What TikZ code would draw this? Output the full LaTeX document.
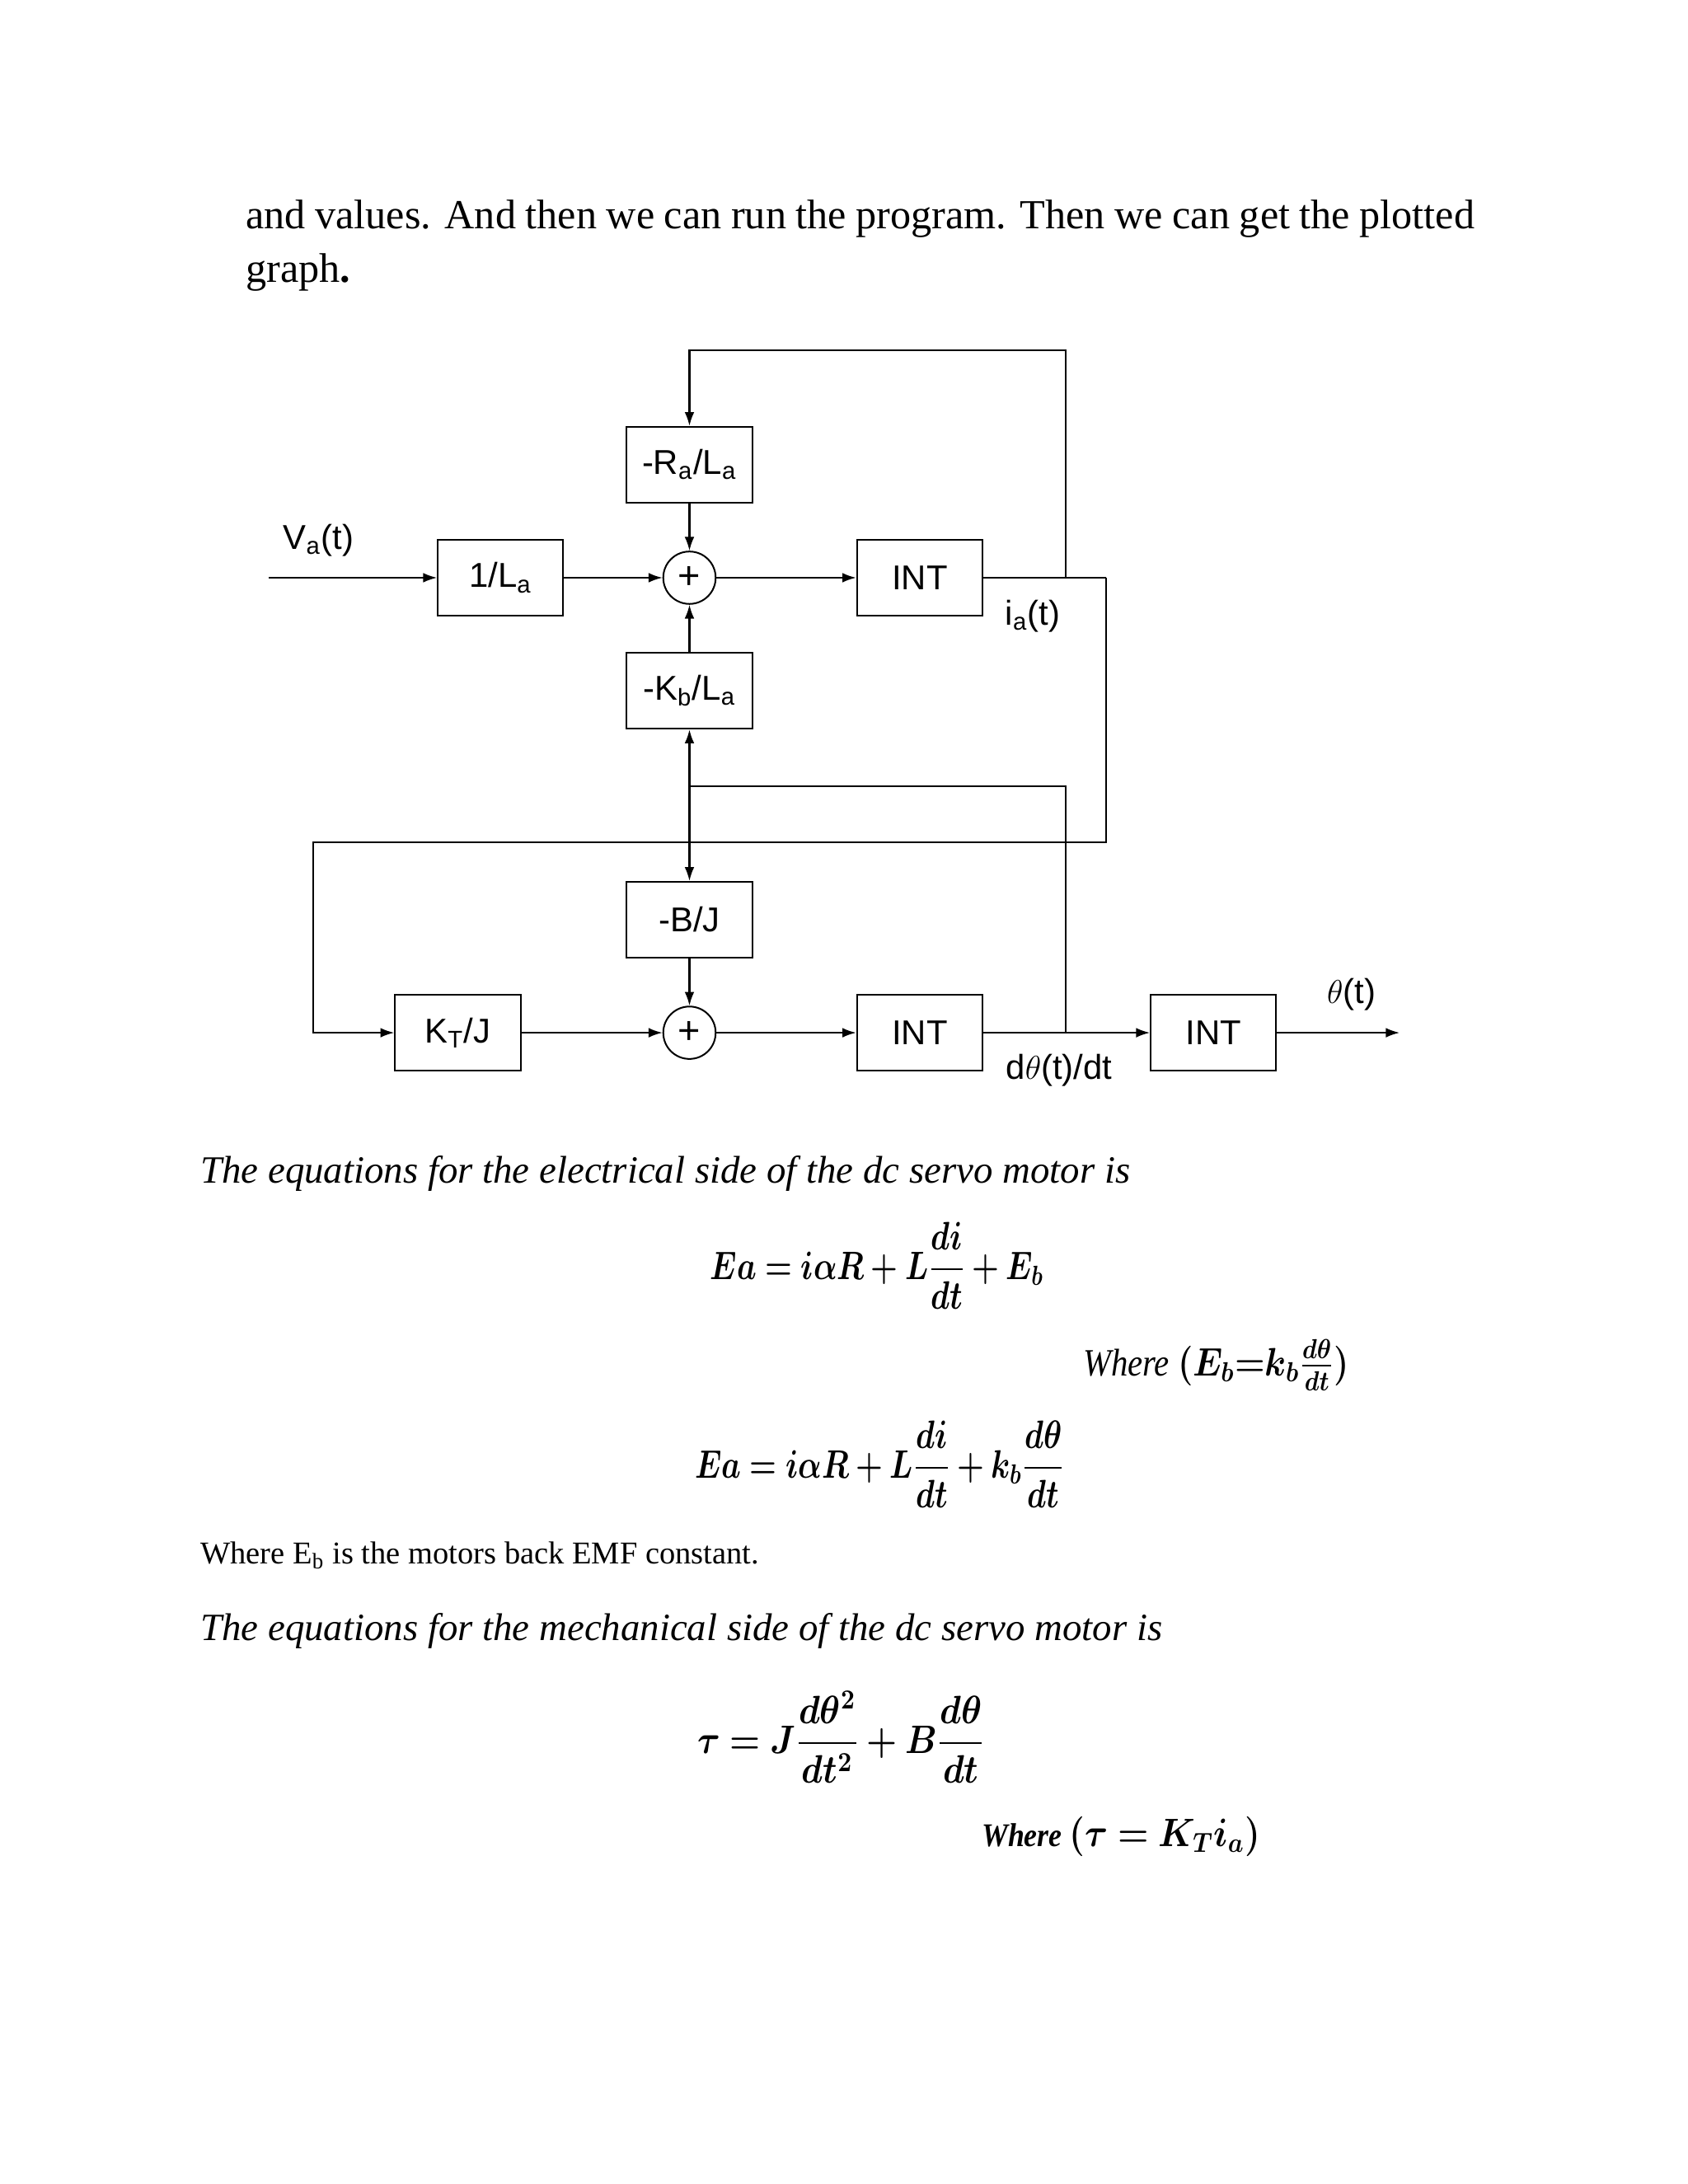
\documentclass[tikz,border=0pt]{standalone}
\usepackage{fontspec}
\usepackage{amsmath,bm,graphicx}
\setmainfont{Liberation Serif}
\newfontfamily\arialf{Liberation Sans}
\usetikzlibrary{arrows.meta}
\begin{document}
\begin{tikzpicture}[x=0.5pt,y=-0.5pt,
  blk/.style={draw,line width=0.6pt,minimum width=45.5pt,minimum height=27.5pt,inner sep=0pt,font=\arialf\fontsize{12.5}{14}\selectfont},
  sumc/.style={draw,circle,line width=0.6pt,minimum size=19pt,inner sep=0pt,font=\arialf\fontsize{14}{14}\selectfont},
  lbl/.style={font=\arialf\fontsize{12.5}{14}\selectfont,inner sep=0pt},
  wire/.style={line width=0.6pt},
  arr/.style={wire,-{Latex[length=5pt,width=3.5pt]}},
  body/.style={font=\fontsize{14}{19.5}\selectfont,inner sep=0pt,anchor=base west},
  ital/.style={font=\itshape\fontsize{14}{18}\selectfont,inner sep=0pt,anchor=base west}]
\useasboundingbox[fill=white] (0,0) rectangle (1224,1584);
% text
\node[body,font=\fontsize{15}{19.5}\selectfont,text width=445.5pt,align=justify] at (178,166) {and values. And then we can run the program. Then we can get the plotted graph\textbf{.}};
% blocks
\node[blk] (ra) at (500,337) {-R$_{\text{a}}$/L$_{\text{a}}$};
\node[blk] (la) at (363,419) {1/L$_{\text{a}}$};
\node[sumc] (s1) at (500,419) {+};
\node[blk] (i1) at (667,419) {INT};
\node[blk] (kb) at (500,501) {-K$_{\text{b}}$/L$_{\text{a}}$};
\node[blk] (bj) at (500,667) {-B/J};
\node[blk] (kt) at (332,749) {K$_{\text{T}}$/J};
\node[sumc] (s2) at (500,749) {+};
\node[blk] (i2) at (667,749) {INT};
\node[blk] (i3) at (880,749) {INT};
\coordinate (vin) at (195,419);
\coordinate (out) at (1015,749);
\coordinate (p1) at (773,419);
\coordinate (p2) at (802,419);
\coordinate (p3) at (773,749);
\coordinate (p4) at (500,570);
\draw[arr] (vin) -- (la);
\draw[arr] (la) -- (s1);
\draw[arr] (s1) -- (i1);
\draw[arr] (ra) -- (s1);
\draw[arr] (kb) -- (s1);
\draw[wire] (i1) -- (p2);
\draw[arr] (p1) |- (500,254) -- (ra);
\draw[arr] (p2) |- (227,611) |- (kt);
\draw[arr] (kt) -- (s2);
\draw[arr] (bj) -- (s2);
\draw[arr] (s2) -- (i2);
\draw[arr] (i2) -- (i3);
\draw[arr] (i3) -- (out);
\draw[wire] (p3) |- (p4);
\draw[arr] (p4) -- (kb);
\draw[arr] (p4) -- (bj);
\node[lbl] (lv) at (231,392) {V$_{\text{a}}$(t)};
\node[lbl] (li) at (749,447) {i$_{\text{a}}$(t)};
\node[lbl] (ld) at (768,776) {d$\theta$(t)/dt};
\node[lbl] (lt) at (980,721) {$\theta$(t)};
% equations
\node[ital] at (145,858) {The equations for the electrical side of the dc servo motor is};
\node[inner sep=0pt] at (636,918) {\scalebox{0.78}[1]{\fontsize{14}{16}\selectfont$\bm{Ea = i\alpha R + L\dfrac{di}{dt} + E_b}$}};
\node[inner sep=0pt] at (882,990) {\scalebox{0.87}[1]{\fontsize{14}{16}\selectfont\itshape Where $\bm{(E_b{=}k_b\frac{d\theta}{dt})}$}};
\node[inner sep=0pt] at (638,1062) {\scalebox{0.78}[1]{\fontsize{14}{16}\selectfont$\bm{Ea = i\alpha R + L\dfrac{di}{dt} + k_b\dfrac{d\theta}{dt}}$}};
\node[body,font=\fontsize{11.5}{14}\selectfont] at (145,1134) {Where E$_{\text{b}}$ is the motors back EMF constant.};
\node[ital] at (145,1190) {The equations for the mechanical side of the dc servo motor is};
\node[inner sep=0pt] at (610,1260) {\scalebox{0.88}[1]{\fontsize{14}{16}\selectfont$\bm{\tau = J\dfrac{d\theta^2}{dt^2} + B\dfrac{d\theta}{dt}}$}};
\node[inner sep=0pt] at (813,1332) {\scalebox{0.89}[1]{\fontsize{12}{14}\selectfont\bfseries\itshape Where \fontsize{14}{16}\selectfont$\bm{(\tau = K_T i_a)}$}};
\end{tikzpicture}
\end{document}
